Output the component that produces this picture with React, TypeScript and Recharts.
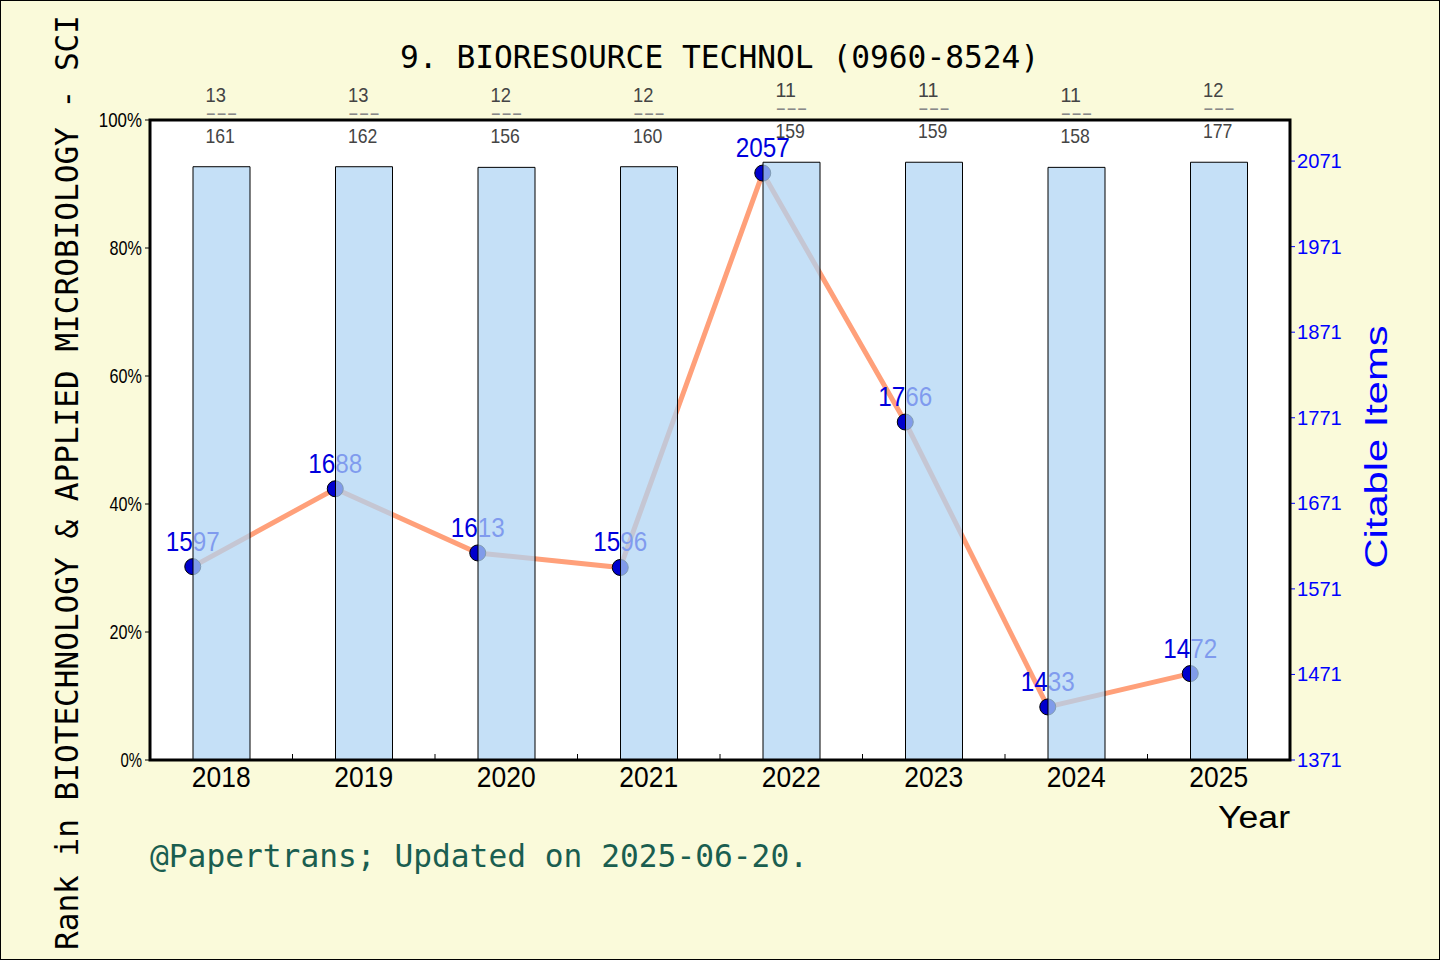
import React from 'react';
import { ComposedChart, Bar, Line, XAxis, YAxis, CartesianGrid, LabelList } from 'recharts';

// ---- data ----
const years = ['2018', '2019', '2020', '2021', '2022', '2023', '2024', '2025'];
const rankPercent = [92.7, 92.7, 92.6, 92.7, 93.4, 93.4, 92.6, 93.4];
const journalRank = [13, 13, 12, 12, 11, 11, 11, 12];
const categoryTotal = [161, 162, 156, 160, 159, 159, 158, 177];
const citableItems = [1597, 1688, 1613, 1596, 2057, 1766, 1433, 1472];
const leftTicks = [0, 20, 40, 60, 80, 100];
const rightTicks = [1371, 1471, 1571, 1671, 1771, 1871, 1971, 2071];
const rightDomain = [1371, 2119];

const data = years.map((year, i) => ({
  year,
  idx: i,
  pct: rankPercent[i],
  rank: journalRank[i],
  total: categoryTotal[i],
  items: citableItems[i],
}));

// ---- layout ----
const W = 1440;
const H = 960;
const PLOT = { left: 150, right: 1290, top: 120, bottom: 760 };
const BAND = (PLOT.right - PLOT.left) / years.length;
const BAR_SIZE = 57;
const SHIFT = BAR_SIZE / 2 / BAND;
const BG = '#fafada';
const MONO = "'DejaVu Sans Mono', 'Liberation Mono', monospace";
const SANS = "'Liberation Sans', Arial, sans-serif";
const Y_AXIS_W = 60;
const X_AXIS_H = 40;

const FractionLabel = (props: any) => {
  const vb = props.viewBox || {};
  const x = props.x ?? vb.x;
  const y = props.y ?? vb.y;
  const width = props.width ?? vb.width;
  const index = props.index;
  if (x == null || y == null || index == null) return null;
  const left = x + width / 2 - 16;
  const num = String(journalRank[index]);
  const den = String(categoryTotal[index]);
  return (
    <g>
      <text x={left} y={y - 65} fontSize={21} fill="#444" fontFamily={SANS}
        textLength={num.length * 10.2} lengthAdjust="spacingAndGlyphs">{num}</text>
      <text x={left} y={y - 47} fontSize={20} fill="#888" fontFamily={SANS}
        textLength={32} lengthAdjust="spacingAndGlyphs">---</text>
      <text x={left} y={y - 24} fontSize={21} fill="#444" fontFamily={SANS}
        textLength={den.length * 9.8} lengthAdjust="spacingAndGlyphs">{den}</text>
    </g>
  );
};

const ItemsLabel = (props: any) => {
  const vb = props.viewBox || {};
  const x = props.x ?? vb.x;
  const y = props.y ?? vb.y;
  const value = props.value;
  if (x == null || y == null) return null;
  const s = String(value);
  return (
    <text x={x} y={y - 16} textAnchor="middle" fontSize={28} fill="#0000dd" fontFamily={SANS}
      textLength={s.length * 13.5} lengthAdjust="spacingAndGlyphs">{s}</text>
  );
};

const CatTick = (props: any) => {
  const { x, y, payload, index } = props;
  const s = String(payload.value);
  return (
    <g>
      <text x={x} y={y + 27} textAnchor="middle" fontSize={29} fill="#000" fontFamily={SANS}
        textLength={s.length * 14.7} lengthAdjust="spacingAndGlyphs">{s}</text>
      {index > 0 ? (
        <line x1={x - BAND / 2} x2={x - BAND / 2} y1={y} y2={y - 6} stroke="#000" strokeWidth={1} />
      ) : null}
    </g>
  );
};

const LeftTick = (props: any) => {
  const { x, y, payload } = props;
  const s = `${payload.value}%`;
  return (
    <text x={x} y={y + 7} textAnchor="end" fontSize={21} fill="#000" fontFamily={SANS}
      textLength={s.length * 10.8} lengthAdjust="spacingAndGlyphs">{s}</text>
  );
};

const RightTick = (props: any) => {
  const { x, y, payload } = props;
  const s = String(payload.value);
  return (
    <text x={x} y={y + 7} textAnchor="start" fontSize={21} fill="#0000ff" fontFamily={SANS}
      textLength={s.length * 11.2} lengthAdjust="spacingAndGlyphs">{s}</text>
  );
};

const title = '9. BIORESOURCE TECHNOL (0960-8524)';
const leftTitle = 'Rank in BIOTECHNOLOGY & APPLIED MICROBIOLOGY - SCI';
const rightTitle = 'Citable Items';
const footnote = '@Papertrans; Updated on 2025-06-20.';
const CH = 18.8;

const layer: React.CSSProperties = { position: 'absolute', left: 0, top: 0 };

export default function App() {
  return (
    <div style={{ position: 'absolute', left: 0, top: 0, width: W, height: H, background: BG, overflow: 'hidden' }}>
      {/* lower layer: white plot area + citable-items line */}
      <div style={layer}>
        <ComposedChart
          width={W}
          height={H}
          data={data}
          margin={{ top: PLOT.top, right: W - PLOT.right, bottom: H - PLOT.bottom, left: PLOT.left }}
        >
          <CartesianGrid xAxisId="num" yAxisId="right" horizontal={false} vertical={false} fill="#ffffff" />
          <XAxis
            xAxisId="num"
            dataKey="idx"
            type="number"
            domain={[-0.5 + SHIFT, years.length - 0.5 + SHIFT]}
            allowDataOverflow
            hide
          />
          <YAxis yAxisId="right" domain={rightDomain} allowDataOverflow hide />
          <Line
            xAxisId="num"
            yAxisId="right"
            dataKey="items"
            type="linear"
            stroke="#ffa07a"
            strokeWidth={5}
            dot={{ r: 8, fill: '#0000cd', stroke: '#000', strokeWidth: 1 }}
            activeDot={false}
            isAnimationActive={false}
          >
            <LabelList dataKey="items" content={(p: any) => <ItemsLabel {...p} />} />
          </Line>
        </ComposedChart>
      </div>
      {/* upper layer: translucent rank bars + axes */}
      <div style={layer}>
        <ComposedChart
          width={W}
          height={H}
          data={data}
          margin={{
            top: PLOT.top,
            right: W - PLOT.right - Y_AXIS_W,
            bottom: H - PLOT.bottom - X_AXIS_H,
            left: PLOT.left - Y_AXIS_W,
          }}
        >
          <XAxis
            xAxisId="cat"
            dataKey="year"
            type="category"
            height={X_AXIS_H}
            axisLine={false}
            tickLine={false}
            tickSize={0}
            tickMargin={0}
            interval={0}
            tick={(p: any) => <CatTick {...p} />}
          />
          <YAxis
            yAxisId="left"
            orientation="left"
            width={Y_AXIS_W}
            domain={[0, 100]}
            ticks={leftTicks}
            allowDataOverflow
            axisLine={false}
            tickLine={{ stroke: '#000', strokeWidth: 1 }}
            tickSize={5}
            tickMargin={3}
            tick={(p: any) => <LeftTick {...p} />}
          />
          <YAxis
            yAxisId="right"
            orientation="right"
            width={Y_AXIS_W}
            domain={rightDomain}
            ticks={rightTicks}
            allowDataOverflow
            axisLine={false}
            tickLine={{ stroke: '#0000ff', strokeWidth: 1 }}
            tickSize={5}
            tickMargin={2}
            tick={(p: any) => <RightTick {...p} />}
          />
          <Bar
            xAxisId="cat"
            yAxisId="left"
            dataKey="pct"
            barSize={BAR_SIZE}
            fill="#afd4f4"
            fillOpacity={0.73}
            stroke="#000"
            strokeWidth={1}
            isAnimationActive={false}
          >
            <LabelList dataKey="rank" content={(p: any) => <FractionLabel {...p} />} />
          </Bar>
        </ComposedChart>
      </div>
      <svg width={W} height={H} style={{ ...layer, pointerEvents: 'none' }}>
        <rect x={0.5} y={0.5} width={W - 1} height={H - 1} fill="none" stroke="#000" strokeWidth={1} />
        <rect x={PLOT.left} y={PLOT.top} width={PLOT.right - PLOT.left} height={PLOT.bottom - PLOT.top}
          fill="none" stroke="#000" strokeWidth={3} />
        <text x={400} y={68} fontSize={32} fill="#000" fontFamily={MONO}
          textLength={title.length * CH} lengthAdjust="spacingAndGlyphs">{title}</text>
        <text x={150} y={867} fontSize={32} fill="#1a5e50" fontFamily={MONO}
          textLength={footnote.length * CH} lengthAdjust="spacingAndGlyphs">{footnote}</text>
        <text x={1290} y={828} textAnchor="end" fontSize={31} fill="#000" fontFamily={SANS}
          textLength={72} lengthAdjust="spacingAndGlyphs">Year</text>
        <text transform="translate(78,950) rotate(-90)" x={0} y={0} fontSize={32} fill="#000" fontFamily={MONO}
          textLength={leftTitle.length * 18.7} lengthAdjust="spacingAndGlyphs">{leftTitle}</text>
        <text transform="translate(1387,447) rotate(-90)" x={0} y={0} textAnchor="middle" fontSize={31}
          fill="#0000ff" fontFamily={SANS} textLength={243} lengthAdjust="spacingAndGlyphs">{rightTitle}</text>
      </svg>
    </div>
  );
}
